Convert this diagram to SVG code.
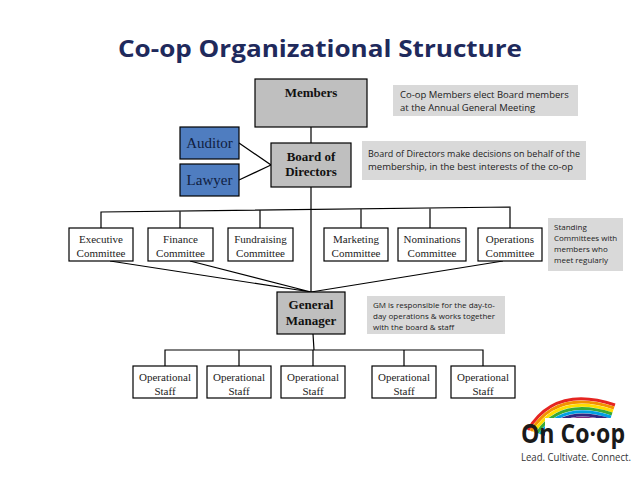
<svg xmlns="http://www.w3.org/2000/svg" width="638" height="479" viewBox="0 0 638 479">
<style>
.b{stroke:#000;stroke-width:1.2}
.g{fill:#BFBFBF}.w{fill:#fff}.bl{fill:#4F7DC0}
.t{font-family:"Liberation Serif",serif;font-size:11px;text-anchor:middle;fill:#222}
.tb{font-family:"Liberation Serif",serif;font-size:13px;font-weight:bold;text-anchor:middle;fill:#111}
.tbl{font-family:"Liberation Serif",serif;font-size:15px;text-anchor:middle;fill:#102040}
.n{fill:#D9D9D9}
.nt{font-family:"Open Sans",sans-serif;font-size:9.5px;fill:#222}
.ns{font-family:"Open Sans",sans-serif;font-size:8px;fill:#222}
.c{stroke:#000;stroke-width:1.2;fill:none}
</style>
<rect width="638" height="479" fill="#fff"/>
<text x="320" y="57" text-anchor="middle" font-family="Open Sans, sans-serif" font-weight="bold" font-size="24" fill="#1F2A5C" textLength="404" lengthAdjust="spacingAndGlyphs">Co-op Organizational Structure</text>
<g id="connectors">
<path class="c" d="M311 127V143M311 187V292" stroke-width="2"/>
<path class="c" d="M239 143L271 165L239 180"/>
<path class="c" d="M101 228V212L510 207V228M180 228V211M260 228V210M361 228V209M430 228V208"/>
<path class="c" d="M110 261L311 292M190 261L311 292M503 261L311 292"/>
<path class="c" d="M313 334L314 350M165 366V350H483V366M239 350V366M313 350V366M404 350V366"/>
</g>
<g id="members"><rect class="b g" x="255" y="79" width="112" height="48"/><text class="tb" x="311" y="97">Members</text></g>
<g id="board"><rect class="b g" x="271" y="143" width="80" height="44"/><text class="tb" x="311" y="161">Board of</text><text class="tb" x="311" y="176">Directors</text></g>
<g id="auditor"><rect class="b bl" x="180" y="127" width="59" height="32"/><text class="tbl" x="209.5" y="148">Auditor</text></g>
<g id="lawyer"><rect class="b bl" x="180" y="164" width="59" height="32"/><text class="tbl" x="209.5" y="185">Lawyer</text></g>
<g id="exec"><rect class="b w" x="69" y="228" width="64" height="33"/><text class="t" x="101" y="243">Executive</text><text class="t" x="101" y="257">Committee</text></g>
<g id="finance"><rect class="b w" x="148" y="228" width="65" height="33"/><text class="t" x="180.5" y="243">Finance</text><text class="t" x="180.5" y="257">Committee</text></g>
<g id="fund"><rect class="b w" x="228" y="228" width="65" height="33"/><text class="t" x="260.5" y="243">Fundraising</text><text class="t" x="260.5" y="257">Committee</text></g>
<g id="marketing"><rect class="b w" x="324" y="228" width="64" height="33"/><text class="t" x="356" y="243">Marketing</text><text class="t" x="356" y="257">Committee</text></g>
<g id="nominations"><rect class="b w" x="398" y="228" width="68" height="33"/><text class="t" x="432" y="243">Nominations</text><text class="t" x="432" y="257">Committee</text></g>
<g id="operations"><rect class="b w" x="478" y="228" width="64" height="33"/><text class="t" x="510" y="243">Operations</text><text class="t" x="510" y="257">Committee</text></g>
<g id="gm"><rect class="b g" x="277" y="292" width="68" height="42"/><text class="tb" x="311" y="309">General</text><text class="tb" x="311" y="325">Manager</text></g>
<g id="staff1"><rect class="b w" x="133" y="366" width="64" height="32"/><text class="t" x="165" y="381">Operational</text><text class="t" x="165" y="395">Staff</text></g>
<g id="staff2"><rect class="b w" x="207" y="366" width="64" height="32"/><text class="t" x="239" y="381">Operational</text><text class="t" x="239" y="395">Staff</text></g>
<g id="staff3"><rect class="b w" x="281" y="366" width="64" height="32"/><text class="t" x="313" y="381">Operational</text><text class="t" x="313" y="395">Staff</text></g>
<g id="staff4"><rect class="b w" x="372" y="366" width="64" height="32"/><text class="t" x="404" y="381">Operational</text><text class="t" x="404" y="395">Staff</text></g>
<g id="staff5"><rect class="b w" x="451" y="366" width="64" height="32"/><text class="t" x="483" y="381">Operational</text><text class="t" x="483" y="395">Staff</text></g>
<g id="note1"><rect class="n" x="393" y="85" width="185" height="31"/><text class="nt" x="400" y="98">Co-op Members elect Board members</text><text class="nt" x="400" y="111">at the Annual General Meeting</text></g>
<g id="note2"><rect class="n" x="362" y="141" width="224" height="39"/><text class="nt" x="368" y="157" textLength="212" lengthAdjust="spacingAndGlyphs">Board of Directors make decisions on behalf of the</text><text class="nt" x="368" y="170">membership, in the best interests of the co-op</text></g>
<g id="note3"><rect class="n" x="548" y="218" width="75" height="53"/><text class="ns" x="554" y="230">Standing</text><text class="ns" x="554" y="241">Committees with</text><text class="ns" x="554" y="252">members who</text><text class="ns" x="554" y="263">meet regularly</text></g>
<g id="note4"><rect class="n" x="367" y="296" width="138" height="38"/><text class="ns" x="373" y="308">GM is responsible for the day-to-</text><text class="ns" x="373" y="319">day operations &amp; works together</text><text class="ns" x="373" y="330">with the board &amp; staff</text></g>
<g id="logo" fill="none" stroke-width="3">
<path d="M528 430Q555 385 615 405" stroke="#E52521"/>
<path d="M531 431Q557 389 614 408" stroke="#F39200"/>
<path d="M534 432Q559 393 613 411" stroke="#FFDD00"/>
<path d="M537 433Q561 397 612 414" stroke="#3AAA35"/>
<path d="M540 434Q563 401 611 417" stroke="#009FE3"/>
<path d="M543 435Q565 405 610 420" stroke="#312783"/>
<path d="M546 436Q567 409 609 423" stroke="#7B2B83"/>
<rect x="545" y="418" width="90" height="28" fill="#fff" stroke="none"/>
<text x="521" y="443" font-family="Open Sans, sans-serif" font-weight="bold" font-size="26" fill="#1a1a1a" stroke="none" textLength="104" lengthAdjust="spacingAndGlyphs">On Co·op</text>
<text x="521" y="461" font-family="Open Sans, sans-serif" font-size="10" fill="#333" stroke="none" textLength="110" lengthAdjust="spacingAndGlyphs">Lead. Cultivate. Connect.</text>
</g>
</svg>
